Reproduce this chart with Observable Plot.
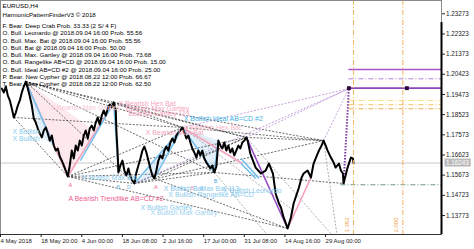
<!DOCTYPE html>
<html><head><meta charset="utf-8">
<script src="https://cdn.jsdelivr.net/npm/d3@7"></script>
<script src="https://cdn.jsdelivr.net/npm/@observablehq/plot@0.6"></script>
<style>
html,body{margin:0;padding:0;background:#fff;}
#chart{width:474px;height:249px;overflow:hidden;}
svg{display:block;}
</style></head><body><div id="chart"></div>
<script>
const FONT = "'Liberation Sans', Arial, sans-serif";

// ---- axes ----
const xMax = 662, yMin = 1.12878, yMax = 1.23899;
const tickBars = [0,61,122,183,244,305,366,427,488];
const tickLabels = ["4 May 2018","18 May 20:00","4 Jun 00:00","18 Jun 08:00","2 Jul 16:00","17 Jul 00:00","31 Jul 08:00","14 Aug 16:00","29 Aug 00:00"];
const yTicks = [1.23273,1.22323,1.21373,1.20423,1.19473,1.18523,1.17573,1.16623,1.15673,1.14723,1.13773];
const lastPrice = 1.16243;

// ---- EURUSD H4 closes (bar index, price) ----
const bars = [2,5,8,11,14,17,20,23,26,29,32,35,38,
41,44,47,50,53,56,59,62,65,68,71,74,77,80,83,86,89,92,95,98,101,
104,107,110,113,116,119,122,125,128,131,134,137,140,143,146,149,152,155,158,161,164,167,170,
173,174,176,177,180,183,186,189,192,195,198,201,
204,207,210,213,216,219,222,225,228,231,234,237,240,243,246,249,252,255,258,261,264,267,270,273,
276,279,282,285,288,291,294,297,300,303,306,309,312,315,318,321,324,
326,327,330,333,336,339,342,345,348,351,354,357,360,363,366,369,
371,375,383,391,398,403,409,413,418,421,425,428,431,
436,440,445,448,452,455,461,466,470,475,478,482,485,
488,491,496,500,503,508,511,514,515,518,521,526,529,530];
const closes = [1.1975,1.1957,1.1985,1.1942,1.1919,1.1881,1.1839,1.1862,1.1895,1.1919,1.1957,1.1985,1.2008,
1.1975,1.1938,1.1895,1.1834,1.1815,1.1787,1.1764,1.1745,1.1778,1.1792,1.1764,1.1730,1.1754,1.1707,1.1683,1.1693,1.1655,1.1636,1.1613,1.1589,1.1561,
1.1613,1.1683,1.1646,1.1707,1.1683,1.1730,1.1707,1.1754,1.1778,1.1740,1.1787,1.1801,1.1778,1.1815,1.1839,1.1806,1.1848,1.1872,1.1848,1.1881,1.1900,1.1886,1.1910,
1.1872,1.1778,1.1660,1.1580,1.1613,1.1636,1.1589,1.1566,1.1599,1.1561,1.1542,1.1528,
1.1580,1.1613,1.1646,1.1683,1.1702,1.1674,1.1636,1.1599,1.1566,1.1552,1.1589,1.1636,1.1660,1.1646,1.1683,1.1702,1.1683,1.1721,1.1740,1.1721,1.1754,1.1768,1.1778,1.1792,
1.1768,1.1740,1.1754,1.1721,1.1693,1.1674,1.1650,1.1683,1.1660,1.1683,1.1646,1.1627,1.1613,1.1599,1.1613,1.1580,1.1608,
1.1683,1.1730,1.1707,1.1693,1.1721,1.1683,1.1707,1.1674,1.1693,1.1660,1.1683,1.1707,1.1693,1.1721,1.1730,1.1745,
1.1730,1.1669,1.1603,1.1575,1.1589,1.1622,1.1575,1.1481,1.1434,1.1415,1.1368,1.1344,1.1316,
1.1368,1.1434,1.1481,1.1509,1.1556,1.1575,1.1589,1.1556,1.1622,1.1660,1.1683,1.1707,1.1730,
1.1707,1.1683,1.1650,1.1627,1.1603,1.1622,1.1589,1.1575,1.1528,1.1566,1.1603,1.1650,1.1646,1.16243];

// ---- swing pivots ----
const pivotBar   = [38,20,101,170,201,231,273,321,369,431,485,515,523];
const pivotPrice = [1.2008,1.1839,1.1561,1.1910,1.1528,1.1552,1.1792,1.1580,1.1745,1.1316,1.1730,1.1528,1.1975];
// projection lines (dashed) between pivots
const dashFrom = [0,0,0,0,0,2,2,2,2,3,3,4,4,5,6,7,8,1,3,2,1,4,5];
const dashTo   = [3,6,8,4,7,6,8,9,7,8,10,8,7,9,10,11,10,2,6,4,6,10,8];
// light grey projections running off the bottom
const greyX1 = [369,485,321,273], greyY1 = [1.1745,1.1730,1.1580,1.1792];
const greyX2 = [497,505,400,440], greyY2 = [1.1288,1.1288,1.1288,1.1400];
// lilac dashed lines to the projected point F
const lilacFrom = [6,8,10,4];
// bullish legs
const blueX1 = [38,120,170,201,231,273,321,361,361], blueY1 = [1.2008,1.1636,1.1910,1.1528,1.1552,1.1792,1.1580,1.1646,1.1622];
const blueX2 = [80,170,177,273,273,321,327,388,383],  blueY2 = [1.1707,1.1910,1.1580,1.1792,1.1792,1.1580,1.1730,1.1552,1.1552];
// bearish legs
const pinkX1 = [38,101,273,431], pinkY1 = [1.2008,1.1561,1.1792,1.1316];
const pinkX2 = [101,170,363,466], pinkY2 = [1.1561,1.1910,1.1622,1.1556];
// filled pattern triangles
const pinkTriBar = [[38,101,140],[101,170,140],[273,366,330]];
const pinkTriPrice = [[1.2008,1.1561,1.1778],[1.1561,1.1910,1.1778],[1.1792,1.1636,1.1707]];
const blueTriBar = [[201,273,231],[273,321,327],[38,80,62]];
const blueTriPrice = [[1.1528,1.1792,1.1552],[1.1792,1.1580,1.1730],[1.2008,1.1707,1.1745]];

// ---- levels in the projection area ----
const levelPrice = [1.2065,1.2021,1.1977,1.1919,1.1899,1.1880,1.1522];
const levelColor = ["#a653cb","#b383d8","#8f46b9","#f8df84","#f5c464","#f1ab55","#6f9484"];
const levelDash  = ["none","5,2,1,2","none","5,2,1,2","5,2,1,2","5,2,1,2","5,2,1,2"];
const levelWidth = [1.6,1,1.6,1,1,1,1];
const levelStart = [523,523,523,523,523,523,511];
const fibBars = [530,604];
const fibLabels = ["1.382","2.000"];
const markBars = [523,610];
const markPrice = 1.1977;

// ---- labels ----
const labelText = ["X Bearish Max Gartley","X Bearish Hex Bat","Bearish Max Gartley","Bearish Gartley 113","X Bearish Max Bat","X Bearish Hex Bat",
  "X Bullish Ideal AB=CD #2","X Bullish","X Bullish","X Bullish Max Bat","X Bullish Bat","Max Bat 113","X Bullish Rangelike AB=CD",
  "X Bullish Gartley","X Bullish Max Gartley","X Bullish Leonardo","A Bearish Trendlike AB=CD #2"];
const labelBar = [75,177,188,192,218,275,275,18,18,123,245,300,252,210,225,334,102];
const labelPrice = [1.1886,1.1905,1.1881,1.1858,1.1768,1.1790,1.1834,1.1773,1.1740,1.1556,1.1505,1.1505,1.1476,1.1415,1.1391,1.1495,1.1457];
const labelColor = ["#f8c8d4","#f5a6bd","#f5a6bd","#f5a6bd","#f5a6bd","#f7b8c8",
  "#45b3e6","#8ccbee","#8ccbee","#8ccbee","#7cc4ec","#8ccbee","#8ccbee","#8ccbee","#9dd2f0","#8ccbee","#ee5a92"];
const letterText = ["A","B","D","A","B","B"];
const letterBar = [105,177,193,233,323,288];
const letterPrice = [1.1519,1.1509,1.1509,1.1509,1.1540,1.1505];
const letterColor = ["#ee5a92","#6fb9e6","#6fb9e6","#ee5a92","#45a7e0","#f5a6bd"];

const headerLines = ["EURUSD,H4","HarmonicPatternFinderV3 \u00a9 2018"];
const statusLines = [
  "F. Bear. Deep Crab Prob. 33.33 (2 S/ 4 F)",
  "O. Bull. Leonardo @ 2018.09.04 16:00 Prob. 55.56",
  "O. Bull. Max. Bat @ 2018.09.04 16:00 Prob. 55.56",
  "O. Bull. Bat @ 2018.09.04 16:00 Prob. 50.00",
  "O. Bull. Max. Gartley @ 2018.09.04 16:00 Prob. 73.68",
  "O. Bull. Rangelike AB=CD @ 2018.09.04 16:00 Prob. 15.00",
  "O. Bull. Ideal AB=CD #2 @ 2018.09.04 16:00 Prob. 25.00",
  "P. Bear. New Cypher @ 2018.08.22 12:00 Prob. 66.67",
  "T. Bear. New Cypher @ 2018.08.22 12:00 Prob. 62.50"];

// ---- build tables ----
const price = bars.map((b,i)=>({bar:b, close:closes[i]}));
const dashSeg = dashFrom.map((f,i)=>({x1:pivotBar[f],y1:pivotPrice[f],x2:pivotBar[dashTo[i]],y2:pivotPrice[dashTo[i]]}));
const greySeg = greyX1.map((x,i)=>({x1:x,y1:greyY1[i],x2:greyX2[i],y2:greyY2[i]}));
const F = pivotBar.length-1;
const lilacSeg = lilacFrom.map(f=>({x1:pivotBar[f],y1:pivotPrice[f],x2:pivotBar[F],y2:pivotPrice[F]}));
const blueSeg = blueX1.map((x,i)=>({x1:x,y1:blueY1[i],x2:blueX2[i],y2:blueY2[i]}));
const pinkSeg = pinkX1.map((x,i)=>({x1:x,y1:pinkY1[i],x2:pinkX2[i],y2:pinkY2[i]}));
const tri = (B,P)=>B.flatMap((arr,k)=>arr.map((b,j)=>({k, bar:b, price:P[k][j]})));
const pinkTri = tri(pinkTriBar,pinkTriPrice), blueTri = tri(blueTriBar,blueTriPrice);
const labels = labelText.map((t,i)=>({t, bar:labelBar[i], price:labelPrice[i], c:labelColor[i]}));
const letters = letterText.map((t,i)=>({t, bar:letterBar[i], price:letterPrice[i], c:letterColor[i]}));
const labelOf = new Map(tickBars.map((b,i)=>[b,tickLabels[i]]));

const levelMarks = levelPrice.map((p,i)=>Plot.ruleY([p],{x1:levelStart[i], x2:xMax, stroke:levelColor[i], strokeWidth:levelWidth[i], strokeDasharray:levelDash[i]}));

const plot = Plot.plot({
  width:474, height:249,
  marginLeft:0, marginRight:33, marginTop:0, marginBottom:15,
  x:{domain:[0,xMax]},
  y:{domain:[yMin,yMax]},
  style:{fontFamily:FONT, fontSize:"6px", background:"#fff", overflow:"visible"},
  marks:[
    Plot.ruleY([lastPrice],{stroke:"#c8c8c8", strokeWidth:1}),
    Plot.line(pinkTri,{x:"bar", y:"price", z:"k", fill:"#f7b3c6", fillOpacity:0.3, stroke:"none"}),
    Plot.line(blueTri,{x:"bar", y:"price", z:"k", fill:"#a9d5f3", fillOpacity:0.35, stroke:"none"}),
    Plot.link(greySeg,{x1:"x1",y1:"y1",x2:"x2",y2:"y2", stroke:"#9a9a9a", strokeWidth:0.8, strokeDasharray:"2,1.5", clip:true}),
    Plot.link(dashSeg,{x1:"x1",y1:"y1",x2:"x2",y2:"y2", stroke:"#2a2a2a", strokeWidth:0.7, strokeDasharray:"2,1.5"}),
    Plot.link(pinkSeg,{x1:"x1",y1:"y1",x2:"x2",y2:"y2", stroke:"#f4a3ba", strokeWidth:1.6}),
    Plot.link(blueSeg,{x1:"x1",y1:"y1",x2:"x2",y2:"y2", stroke:"#78c0ec", strokeWidth:1.6}),
    Plot.link(lilacSeg,{x1:"x1",y1:"y1",x2:"x2",y2:"y2", stroke:"#b58ad6", strokeWidth:0.8, strokeDasharray:"2,1.5"}),
    Plot.link([0],{x1:()=>pivotBar[8],y1:()=>pivotPrice[8],x2:()=>pivotBar[9],y2:()=>pivotPrice[9], stroke:"#9a4fc4", strokeWidth:1.6}),
    Plot.link([0],{x1:()=>pivotBar[11],y1:()=>pivotPrice[11],x2:()=>pivotBar[F],y2:()=>pivotPrice[F], stroke:"#7a3aa0", strokeWidth:2, strokeDasharray:"1.5,1.5"}),
    Plot.line(price,{x:"bar", y:"close", stroke:"#000", strokeWidth:2}),
    ...levelMarks,
    Plot.ruleX(fibBars,{stroke:"#f4b35c", strokeWidth:1, strokeDasharray:"5,2,1,2"}),
    Plot.text(fibBars,{x:d=>d, text:(d,i)=>fibLabels[i], frameAnchor:"bottom", rotate:-90, textAnchor:"start", dx:-4.5, dy:-2, fill:"#f0a34a", fontSize:6}),
    Plot.dot(markBars,{x:d=>d, y:()=>markPrice, symbol:"square", r:2.2, fill:"#2d0b3c", stroke:"none"}),
    Plot.text(labels,{x:"bar", y:"price", text:"t", fill:"c", textAnchor:"start", fontSize:7}),
    Plot.text(letters,{x:"bar", y:"price", text:"t", fill:"c", fontSize:5.5}),
    Plot.frame({stroke:"#8a8a8a"}),
    Plot.ruleX([xMax],{y1:1.2286, y2:yMin, stroke:"#000", strokeWidth:2}),
    Plot.ruleY([yMin],{stroke:"#333", strokeWidth:1.2}),
    Plot.axisX(tickBars,{anchor:"bottom", tickSize:3, tickPadding:1.5, textAnchor:"start", fontSize:6, color:"#222", tickFormat:d=>labelOf.get(d)}),
    Plot.axisY(yTicks,{anchor:"right", tickSize:3, tickPadding:1.5, fontSize:6.3, color:"#222", tickFormat:d=>d.toFixed(5)}),
    Plot.text([lastPrice],{y:d=>d, frameAnchor:"right", textAnchor:"start", dx:4.5, text:d=>d.toFixed(5), fill:"#fff", fontSize:6.3}),
    Plot.text([headerLines.join("\n")],{frameAnchor:"top-left", dx:2, dy:1.5, lineHeight:1.39, fontSize:6.2, fill:"#000", text:d=>d}),
    Plot.text([statusLines.join("\n")],{frameAnchor:"top-left", dx:2, dy:22.2, lineHeight:1.18, fontSize:6.2, fill:"#000", text:d=>d})
  ]
});
document.getElementById("chart").append(plot);

// grey price tag behind the last price label
const tag = [...plot.querySelectorAll("text")].find(t=>t.textContent===lastPrice.toFixed(5) && t.getAttribute("fill")!=="#222");
if (tag) {
  const sr = plot.getBoundingClientRect(), r = tag.getBoundingClientRect();
  const rect = document.createElementNS("http://www.w3.org/2000/svg","rect");
  rect.setAttribute("x", r.left - sr.left - 1.5);
  rect.setAttribute("y", r.top - sr.top - 0.5);
  rect.setAttribute("width", r.width + 3);
  rect.setAttribute("height", r.height + 1);
  rect.setAttribute("fill", "#b9b9b9");
  let g = tag; while (g.parentNode !== plot) g = g.parentNode;
  plot.insertBefore(rect, g);
}
</script></body></html>
